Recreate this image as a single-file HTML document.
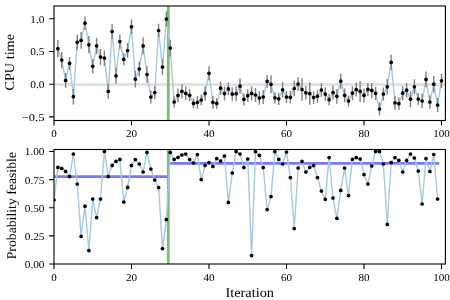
<!DOCTYPE html>
<html><head><meta charset="utf-8"><style>
html,body{margin:0;padding:0;background:#fff;width:450px;height:300px;overflow:hidden}
svg{display:block} text{text-rendering:geometricPrecision}
</style></head><body>
<svg width="450" height="300" viewBox="0 0 450 300">
<rect width="450" height="300" fill="#fff"/>
<defs><clipPath id="ct"><rect x="54" y="6" width="391.4" height="114.5"/></clipPath>
<clipPath id="cb"><rect x="54" y="149.5" width="391.4" height="114.5"/></clipPath></defs>
<g clip-path="url(#ct)">
<line x1="54" y1="84.5" x2="445.4" y2="84.5" stroke="#e3e3e3" stroke-width="2.8"/>
<line x1="168.3" y1="6" x2="168.3" y2="120.5" stroke="#79bd79" stroke-width="2.8"/>
<polyline points="57.88,48.7 61.75,60.1 65.62,80.4 69.5,63.3 73.38,96.7 77.25,42.3 81.12,40.3 85,23.2 88.88,44.8 92.75,66.3 96.62,45.8 100.5,57 104.38,58.1 108.25,91.4 112.12,31.5 116,75.8 119.88,41.5 123.75,59.4 127.62,50.5 131.5,26.8 135.38,79.2 139.25,69 143.12,45.9 147,74.5 150.88,97 154.75,92.5 158.62,30.5 162.5,67.1 166.38,19 170.25,48.1 174.12,102 178,95.5 181.88,91.3 185.75,93.4 189.62,95.3 193.5,103.4 197.38,102.3 201.25,100 205.12,93.4 209,73.3 212.88,102.3 216.75,103.4 220.62,88.2 224.5,93.6 228.38,88.8 232.25,94.1 236.12,93.7 240,86.2 243.88,99.4 247.75,95.7 251.62,93.4 255.5,95 259.38,98.1 263.25,97 267.12,81.3 271,84.3 274.88,97.8 278.75,98.8 282.62,89.8 286.5,97 290.38,97.3 294.25,88.5 298.12,84 302,89.5 305.88,92.8 309.75,93.6 313.62,97.6 317.5,96.2 321.38,90 325.25,94.1 329.12,99.7 333,92.6 336.88,96.3 340.75,81.2 344.62,95.3 348.5,101 352.38,93.2 356.25,89.6 360.12,91.4 364,95.4 367.88,89.4 371.75,90.4 375.62,93.4 379.5,109 383.38,94 387.25,86.8 391.12,62.4 395,102.8 398.88,103.7 402.75,93.2 406.62,90.2 410.5,99.2 414.38,86.8 418.25,99.1 422.12,101 426,79.4 429.88,102 433.75,84.2 437.62,105 441.5,80.8" fill="none" stroke="#a5c9e1" stroke-width="1.4" stroke-linejoin="round"/>
<path d="M57.88 40.1V57.3M61.75 51.9V68.3M65.62 73.1V87.7M69.5 56.9V69.7M73.38 88.9V104.5M77.25 34.7V49.9M81.12 31.9V48.7M85 16.3V30.1M88.88 36V53.6M92.75 59V73.6M96.62 37.7V53.9M100.5 48.9V65.1M104.38 50.4V65.8M108.25 84V98.8M112.12 24V39M116 67.9V83.7M119.88 34.2V48.8M123.75 53.2V65.6M127.62 43.1V57.9M131.5 19.5V34.1M135.38 71V87.4M139.25 61.5V76.5M143.12 37.5V54.3M147 66.3V82.7M150.88 90.6V103.4M154.75 85.8V99.2M158.62 23.7V37.3M162.5 59.2V75M166.38 11.4V26.6M170.25 39.8V56.4M174.12 96.6V107.4M178 88.5V102.5M181.88 84.2V98.4M185.75 86.5V100.3M189.62 89.3V101.3M193.5 98.5V108.3M197.38 96.1V108.5M201.25 94.5V105.5M205.12 86.3V100.5M209 66.3V80.3M212.88 95.9V108.7M216.75 98.15V108.65M220.62 81.45V94.95M224.5 86.7V100.5M228.38 82.4V95.2M232.25 87.35V100.85M236.12 86.2V101.2M240 78.3V94.1M243.88 93.4V105.4M247.75 89.3V102.1M251.62 86.5V100.3M255.5 88.1V101.9M259.38 91.35V104.85M263.25 89.9V104.1M267.12 74.9V87.7M271 75.3V93.3M274.88 92.2V103.4M278.75 92.7V104.9M282.62 82.1V97.5M286.5 91V103M290.38 91V103.6M294.25 80.85V96.15M298.12 77.25V90.75M302 78.25V100.75M305.88 86.05V99.55M309.75 82.35V104.85M313.62 91.2V104M317.5 89.7V102.7M321.38 83.25V96.75M325.25 87.35V100.85M329.12 94.1V105.3M333 85.6V99.6M336.88 88.95V103.65M340.75 73.55V88.85M344.62 88.4V102.2M348.5 95.5V106.5M352.38 86.2V100.2M356.25 82.6V96.6M360.12 80.9V101.9M364 88.4V102.4M367.88 82.9V95.9M371.75 82.9V97.9M375.62 86.9V99.9M379.5 102.5V115.5M383.38 87.5V100.5M387.25 79V94.6M391.12 54.8V70M395 95.8V109.8M398.88 97.3V110.1M402.75 86V100.4M406.62 83V97.4M410.5 91.2V107.2M414.38 79.3V94.3M418.25 93.1V105.1M422.12 93.7V108.3M426 71.6V87.2M429.88 95.3V108.7M433.75 76V92.4M437.62 98.1V111.9M441.5 73.7V87.9" stroke="#808080" stroke-width="1.4" fill="none"/>
<circle cx="57.88" cy="48.7" r="1.85"/>
<circle cx="61.75" cy="60.1" r="1.85"/>
<circle cx="65.62" cy="80.4" r="1.85"/>
<circle cx="69.5" cy="63.3" r="1.85"/>
<circle cx="73.38" cy="96.7" r="1.85"/>
<circle cx="77.25" cy="42.3" r="1.85"/>
<circle cx="81.12" cy="40.3" r="1.85"/>
<circle cx="85" cy="23.2" r="1.85"/>
<circle cx="88.88" cy="44.8" r="1.85"/>
<circle cx="92.75" cy="66.3" r="1.85"/>
<circle cx="96.62" cy="45.8" r="1.85"/>
<circle cx="100.5" cy="57" r="1.85"/>
<circle cx="104.38" cy="58.1" r="1.85"/>
<circle cx="108.25" cy="91.4" r="1.85"/>
<circle cx="112.12" cy="31.5" r="1.85"/>
<circle cx="116" cy="75.8" r="1.85"/>
<circle cx="119.88" cy="41.5" r="1.85"/>
<circle cx="123.75" cy="59.4" r="1.85"/>
<circle cx="127.62" cy="50.5" r="1.85"/>
<circle cx="131.5" cy="26.8" r="1.85"/>
<circle cx="135.38" cy="79.2" r="1.85"/>
<circle cx="139.25" cy="69" r="1.85"/>
<circle cx="143.12" cy="45.9" r="1.85"/>
<circle cx="147" cy="74.5" r="1.85"/>
<circle cx="150.88" cy="97" r="1.85"/>
<circle cx="154.75" cy="92.5" r="1.85"/>
<circle cx="158.62" cy="30.5" r="1.85"/>
<circle cx="162.5" cy="67.1" r="1.85"/>
<circle cx="166.38" cy="19" r="1.85"/>
<circle cx="170.25" cy="48.1" r="1.85"/>
<circle cx="174.12" cy="102" r="1.85"/>
<circle cx="178" cy="95.5" r="1.85"/>
<circle cx="181.88" cy="91.3" r="1.85"/>
<circle cx="185.75" cy="93.4" r="1.85"/>
<circle cx="189.62" cy="95.3" r="1.85"/>
<circle cx="193.5" cy="103.4" r="1.85"/>
<circle cx="197.38" cy="102.3" r="1.85"/>
<circle cx="201.25" cy="100" r="1.85"/>
<circle cx="205.12" cy="93.4" r="1.85"/>
<circle cx="209" cy="73.3" r="1.85"/>
<circle cx="212.88" cy="102.3" r="1.85"/>
<circle cx="216.75" cy="103.4" r="1.85"/>
<circle cx="220.62" cy="88.2" r="1.85"/>
<circle cx="224.5" cy="93.6" r="1.85"/>
<circle cx="228.38" cy="88.8" r="1.85"/>
<circle cx="232.25" cy="94.1" r="1.85"/>
<circle cx="236.12" cy="93.7" r="1.85"/>
<circle cx="240" cy="86.2" r="1.85"/>
<circle cx="243.88" cy="99.4" r="1.85"/>
<circle cx="247.75" cy="95.7" r="1.85"/>
<circle cx="251.62" cy="93.4" r="1.85"/>
<circle cx="255.5" cy="95" r="1.85"/>
<circle cx="259.38" cy="98.1" r="1.85"/>
<circle cx="263.25" cy="97" r="1.85"/>
<circle cx="267.12" cy="81.3" r="1.85"/>
<circle cx="271" cy="84.3" r="1.85"/>
<circle cx="274.88" cy="97.8" r="1.85"/>
<circle cx="278.75" cy="98.8" r="1.85"/>
<circle cx="282.62" cy="89.8" r="1.85"/>
<circle cx="286.5" cy="97" r="1.85"/>
<circle cx="290.38" cy="97.3" r="1.85"/>
<circle cx="294.25" cy="88.5" r="1.85"/>
<circle cx="298.12" cy="84" r="1.85"/>
<circle cx="302" cy="89.5" r="1.85"/>
<circle cx="305.88" cy="92.8" r="1.85"/>
<circle cx="309.75" cy="93.6" r="1.85"/>
<circle cx="313.62" cy="97.6" r="1.85"/>
<circle cx="317.5" cy="96.2" r="1.85"/>
<circle cx="321.38" cy="90" r="1.85"/>
<circle cx="325.25" cy="94.1" r="1.85"/>
<circle cx="329.12" cy="99.7" r="1.85"/>
<circle cx="333" cy="92.6" r="1.85"/>
<circle cx="336.88" cy="96.3" r="1.85"/>
<circle cx="340.75" cy="81.2" r="1.85"/>
<circle cx="344.62" cy="95.3" r="1.85"/>
<circle cx="348.5" cy="101" r="1.85"/>
<circle cx="352.38" cy="93.2" r="1.85"/>
<circle cx="356.25" cy="89.6" r="1.85"/>
<circle cx="360.12" cy="91.4" r="1.85"/>
<circle cx="364" cy="95.4" r="1.85"/>
<circle cx="367.88" cy="89.4" r="1.85"/>
<circle cx="371.75" cy="90.4" r="1.85"/>
<circle cx="375.62" cy="93.4" r="1.85"/>
<circle cx="379.5" cy="109" r="1.85"/>
<circle cx="383.38" cy="94" r="1.85"/>
<circle cx="387.25" cy="86.8" r="1.85"/>
<circle cx="391.12" cy="62.4" r="1.85"/>
<circle cx="395" cy="102.8" r="1.85"/>
<circle cx="398.88" cy="103.7" r="1.85"/>
<circle cx="402.75" cy="93.2" r="1.85"/>
<circle cx="406.62" cy="90.2" r="1.85"/>
<circle cx="410.5" cy="99.2" r="1.85"/>
<circle cx="414.38" cy="86.8" r="1.85"/>
<circle cx="418.25" cy="99.1" r="1.85"/>
<circle cx="422.12" cy="101" r="1.85"/>
<circle cx="426" cy="79.4" r="1.85"/>
<circle cx="429.88" cy="102" r="1.85"/>
<circle cx="433.75" cy="84.2" r="1.85"/>
<circle cx="437.62" cy="105" r="1.85"/>
<circle cx="441.5" cy="80.8" r="1.85"/>
</g>
<g clip-path="url(#cb)">
<line x1="168.3" y1="149.5" x2="168.3" y2="264" stroke="#79bd79" stroke-width="2.8"/>
<line x1="54" y1="176.7" x2="167.6" y2="176.7" stroke="#7878f8" stroke-width="2.8"/>
<line x1="169.2" y1="163.4" x2="439.3" y2="163.4" stroke="#7878f8" stroke-width="2.8"/>
<polyline points="54,200 57.88,167.4 61.75,168.4 65.62,171.4 69.5,176.6 73.38,154 77.25,184 81.12,236.4 85,206.2 88.88,250.6 92.75,199 96.62,217.6 100.5,199 104.38,151.4 108.25,176.6 112.12,165.4 116,161.4 119.88,159.4 123.75,202 127.62,187.4 131.5,165.4 135.38,159.6 139.25,164 143.12,172 147,152.4 150.88,169 154.75,180 158.62,187.6 162.5,248.6 166.38,219.6 170.25,152.4 174.12,159.4 178,157.4 181.88,155 185.75,154 189.62,159.6 193.5,163 197.38,154.6 201.25,179.6 205.12,165.4 209,162.6 212.88,166.4 216.75,158.6 220.62,161 224.5,156 228.38,202.4 232.25,173 236.12,151.6 240,154 243.88,167.6 247.75,159 251.62,255.6 255.5,151.6 259.38,155.4 263.25,167.6 267.12,209.6 271,196.6 274.88,151.6 278.75,159.4 282.62,164 286.5,152 290.38,177.6 294.25,228.6 298.12,168 302,161.4 305.88,172 309.75,167.4 313.62,165.6 317.5,177.6 321.38,191 325.25,199.4 329.12,157.6 333,198 336.88,218.4 340.75,190.4 344.62,168 348.5,195.6 352.38,159.4 356.25,157.6 360.12,159 364,174.6 367.88,184 371.75,166 375.62,151.4 379.5,151.4 383.38,164 387.25,224.4 391.12,162.6 395,157.6 398.88,160.4 402.75,172 406.62,160.4 410.5,154 414.38,158 418.25,171 422.12,204 426,158.6 429.88,171.5 433.75,154.5 437.62,199" fill="none" stroke="#a5c9e1" stroke-width="1.4" stroke-linejoin="round"/>
<circle cx="54" cy="200" r="1.85"/>
<circle cx="57.88" cy="167.4" r="1.85"/>
<circle cx="61.75" cy="168.4" r="1.85"/>
<circle cx="65.62" cy="171.4" r="1.85"/>
<circle cx="69.5" cy="176.6" r="1.85"/>
<circle cx="73.38" cy="154" r="1.85"/>
<circle cx="77.25" cy="184" r="1.85"/>
<circle cx="81.12" cy="236.4" r="1.85"/>
<circle cx="85" cy="206.2" r="1.85"/>
<circle cx="88.88" cy="250.6" r="1.85"/>
<circle cx="92.75" cy="199" r="1.85"/>
<circle cx="96.62" cy="217.6" r="1.85"/>
<circle cx="100.5" cy="199" r="1.85"/>
<circle cx="104.38" cy="151.4" r="1.85"/>
<circle cx="108.25" cy="176.6" r="1.85"/>
<circle cx="112.12" cy="165.4" r="1.85"/>
<circle cx="116" cy="161.4" r="1.85"/>
<circle cx="119.88" cy="159.4" r="1.85"/>
<circle cx="123.75" cy="202" r="1.85"/>
<circle cx="127.62" cy="187.4" r="1.85"/>
<circle cx="131.5" cy="165.4" r="1.85"/>
<circle cx="135.38" cy="159.6" r="1.85"/>
<circle cx="139.25" cy="164" r="1.85"/>
<circle cx="143.12" cy="172" r="1.85"/>
<circle cx="147" cy="152.4" r="1.85"/>
<circle cx="150.88" cy="169" r="1.85"/>
<circle cx="154.75" cy="180" r="1.85"/>
<circle cx="158.62" cy="187.6" r="1.85"/>
<circle cx="162.5" cy="248.6" r="1.85"/>
<circle cx="166.38" cy="219.6" r="1.85"/>
<circle cx="170.25" cy="152.4" r="1.85"/>
<circle cx="174.12" cy="159.4" r="1.85"/>
<circle cx="178" cy="157.4" r="1.85"/>
<circle cx="181.88" cy="155" r="1.85"/>
<circle cx="185.75" cy="154" r="1.85"/>
<circle cx="189.62" cy="159.6" r="1.85"/>
<circle cx="193.5" cy="163" r="1.85"/>
<circle cx="197.38" cy="154.6" r="1.85"/>
<circle cx="201.25" cy="179.6" r="1.85"/>
<circle cx="205.12" cy="165.4" r="1.85"/>
<circle cx="209" cy="162.6" r="1.85"/>
<circle cx="212.88" cy="166.4" r="1.85"/>
<circle cx="216.75" cy="158.6" r="1.85"/>
<circle cx="220.62" cy="161" r="1.85"/>
<circle cx="224.5" cy="156" r="1.85"/>
<circle cx="228.38" cy="202.4" r="1.85"/>
<circle cx="232.25" cy="173" r="1.85"/>
<circle cx="236.12" cy="151.6" r="1.85"/>
<circle cx="240" cy="154" r="1.85"/>
<circle cx="243.88" cy="167.6" r="1.85"/>
<circle cx="247.75" cy="159" r="1.85"/>
<circle cx="251.62" cy="255.6" r="1.85"/>
<circle cx="255.5" cy="151.6" r="1.85"/>
<circle cx="259.38" cy="155.4" r="1.85"/>
<circle cx="263.25" cy="167.6" r="1.85"/>
<circle cx="267.12" cy="209.6" r="1.85"/>
<circle cx="271" cy="196.6" r="1.85"/>
<circle cx="274.88" cy="151.6" r="1.85"/>
<circle cx="278.75" cy="159.4" r="1.85"/>
<circle cx="282.62" cy="164" r="1.85"/>
<circle cx="286.5" cy="152" r="1.85"/>
<circle cx="290.38" cy="177.6" r="1.85"/>
<circle cx="294.25" cy="228.6" r="1.85"/>
<circle cx="298.12" cy="168" r="1.85"/>
<circle cx="302" cy="161.4" r="1.85"/>
<circle cx="305.88" cy="172" r="1.85"/>
<circle cx="309.75" cy="167.4" r="1.85"/>
<circle cx="313.62" cy="165.6" r="1.85"/>
<circle cx="317.5" cy="177.6" r="1.85"/>
<circle cx="321.38" cy="191" r="1.85"/>
<circle cx="325.25" cy="199.4" r="1.85"/>
<circle cx="329.12" cy="157.6" r="1.85"/>
<circle cx="333" cy="198" r="1.85"/>
<circle cx="336.88" cy="218.4" r="1.85"/>
<circle cx="340.75" cy="190.4" r="1.85"/>
<circle cx="344.62" cy="168" r="1.85"/>
<circle cx="348.5" cy="195.6" r="1.85"/>
<circle cx="352.38" cy="159.4" r="1.85"/>
<circle cx="356.25" cy="157.6" r="1.85"/>
<circle cx="360.12" cy="159" r="1.85"/>
<circle cx="364" cy="174.6" r="1.85"/>
<circle cx="367.88" cy="184" r="1.85"/>
<circle cx="371.75" cy="166" r="1.85"/>
<circle cx="375.62" cy="151.4" r="1.85"/>
<circle cx="379.5" cy="151.4" r="1.85"/>
<circle cx="383.38" cy="164" r="1.85"/>
<circle cx="387.25" cy="224.4" r="1.85"/>
<circle cx="391.12" cy="162.6" r="1.85"/>
<circle cx="395" cy="157.6" r="1.85"/>
<circle cx="398.88" cy="160.4" r="1.85"/>
<circle cx="402.75" cy="172" r="1.85"/>
<circle cx="406.62" cy="160.4" r="1.85"/>
<circle cx="410.5" cy="154" r="1.85"/>
<circle cx="414.38" cy="158" r="1.85"/>
<circle cx="418.25" cy="171" r="1.85"/>
<circle cx="422.12" cy="204" r="1.85"/>
<circle cx="426" cy="158.6" r="1.85"/>
<circle cx="429.88" cy="171.5" r="1.85"/>
<circle cx="433.75" cy="154.5" r="1.85"/>
<circle cx="437.62" cy="199" r="1.85"/>
</g>
<rect x="54" y="6" width="391.4" height="114.5" fill="none" stroke="#000" stroke-width="1.1"/>
<rect x="54" y="149.5" width="391.4" height="114.5" fill="none" stroke="#000" stroke-width="1.1"/>
<path d="M54 120.5v4.9M131.5 120.5v4.9M209 120.5v4.9M286.5 120.5v4.9M364 120.5v4.9M441.5 120.5v4.9M54 264v4.9M131.5 264v4.9M209 264v4.9M286.5 264v4.9M364 264v4.9M441.5 264v4.9M54 18.8h-4.9M54 51.5h-4.9M54 84.2h-4.9M54 116.9h-4.9M54 264h-4.9M54 235.88h-4.9M54 207.75h-4.9M54 179.62h-4.9M54 151.5h-4.9" stroke="#000" stroke-width="1.1" fill="none"/>
<g font-family="'Liberation Serif', serif" font-size="10.5" fill="#000">
<text x="54" y="137.3" text-anchor="middle" textLength="5.55" lengthAdjust="spacingAndGlyphs">0</text>
<text x="131.5" y="137.3" text-anchor="middle" textLength="11.1" lengthAdjust="spacingAndGlyphs">20</text>
<text x="209" y="137.3" text-anchor="middle" textLength="11.1" lengthAdjust="spacingAndGlyphs">40</text>
<text x="286.5" y="137.3" text-anchor="middle" textLength="11.1" lengthAdjust="spacingAndGlyphs">60</text>
<text x="364" y="137.3" text-anchor="middle" textLength="11.1" lengthAdjust="spacingAndGlyphs">80</text>
<text x="441.5" y="137.3" text-anchor="middle" textLength="16.65" lengthAdjust="spacingAndGlyphs">100</text>
<text x="54" y="280.8" text-anchor="middle" textLength="5.55" lengthAdjust="spacingAndGlyphs">0</text>
<text x="131.5" y="280.8" text-anchor="middle" textLength="11.1" lengthAdjust="spacingAndGlyphs">20</text>
<text x="209" y="280.8" text-anchor="middle" textLength="11.1" lengthAdjust="spacingAndGlyphs">40</text>
<text x="286.5" y="280.8" text-anchor="middle" textLength="11.1" lengthAdjust="spacingAndGlyphs">60</text>
<text x="364" y="280.8" text-anchor="middle" textLength="11.1" lengthAdjust="spacingAndGlyphs">80</text>
<text x="441.5" y="280.8" text-anchor="middle" textLength="16.65" lengthAdjust="spacingAndGlyphs">100</text>
<text x="44.5" y="22.7" text-anchor="end" textLength="14.18" lengthAdjust="spacingAndGlyphs">1.0</text>
<text x="44.5" y="55.4" text-anchor="end" textLength="14.18" lengthAdjust="spacingAndGlyphs">0.5</text>
<text x="44.5" y="88.1" text-anchor="end" textLength="14.18" lengthAdjust="spacingAndGlyphs">0.0</text>
<text x="44.5" y="120.8" text-anchor="end" textLength="22.82" lengthAdjust="spacingAndGlyphs">−0.5</text>
<text x="44.5" y="267.9" text-anchor="end" textLength="19.73" lengthAdjust="spacingAndGlyphs">0.00</text>
<text x="44.5" y="239.78" text-anchor="end" textLength="19.73" lengthAdjust="spacingAndGlyphs">0.25</text>
<text x="44.5" y="211.65" text-anchor="end" textLength="19.73" lengthAdjust="spacingAndGlyphs">0.50</text>
<text x="44.5" y="183.53" text-anchor="end" textLength="19.73" lengthAdjust="spacingAndGlyphs">0.75</text>
<text x="44.5" y="155.4" text-anchor="end" textLength="19.73" lengthAdjust="spacingAndGlyphs">1.00</text>
</g>
<g font-family="'Liberation Serif', serif" font-size="13.5" fill="#000">
<text x="249.7" y="296.7" text-anchor="middle" textLength="48.6" lengthAdjust="spacingAndGlyphs">Iteration</text>
<text transform="translate(13.75 62.3) rotate(-90)" x="0" y="0" text-anchor="middle" textLength="56.6" lengthAdjust="spacingAndGlyphs">CPU time</text>
<text transform="translate(16.2 205.7) rotate(-90)" x="0" y="0" text-anchor="middle" textLength="107.3" lengthAdjust="spacingAndGlyphs">Probability feasible</text>
</g>
</svg>
</body></html>
